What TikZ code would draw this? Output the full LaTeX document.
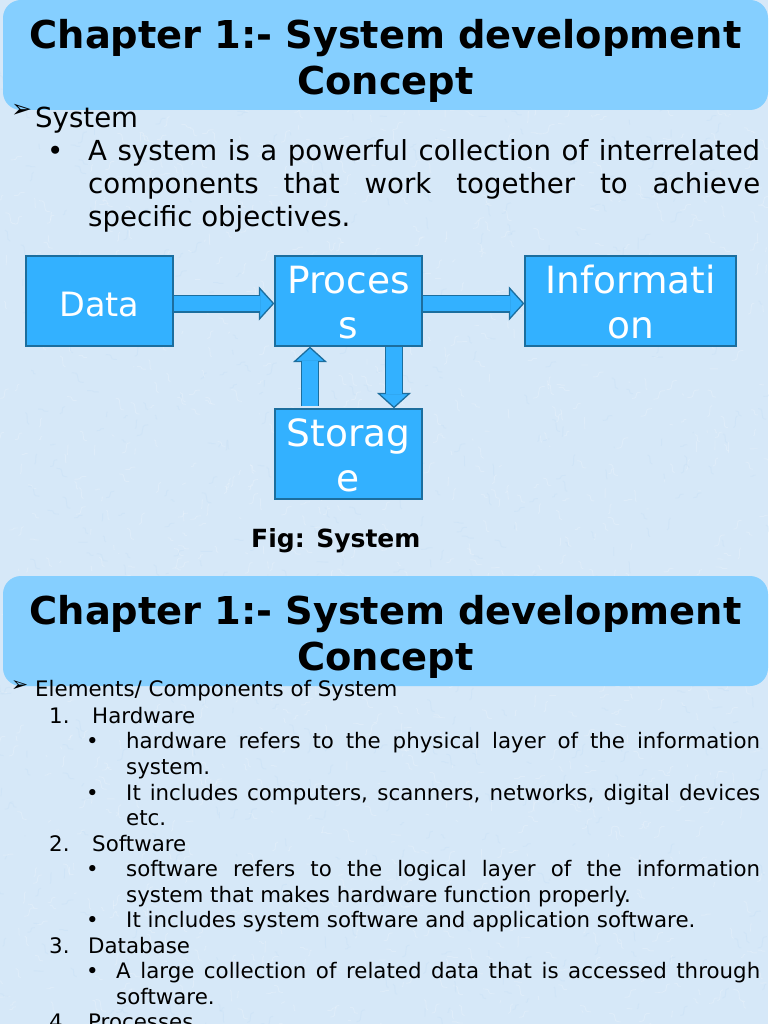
\documentclass[tikz,border=0pt]{standalone}
\usepackage{fontspec}
\setmainfont{DejaVu Sans}
\usetikzlibrary{arrows.meta}
\definecolor{paper}{HTML}{D6E8F8}
\definecolor{grain}{HTML}{B4D6F3}
\definecolor{banner}{HTML}{85CFFF}
\definecolor{boxfill}{HTML}{33B1FF}
\definecolor{boxedge}{HTML}{1C6E9E}
\hyphenpenalty=10000
\newcommand{\lift}[1]{\rule{0pt}{#1pt}}
\tikzset{
  banner/.style = {fill=banner, rounded corners=18pt, minimum width=765pt, minimum height=110pt,
    text width=750pt, align=center, inner sep=0pt, font=\bfseries\fontsize{38.4}{46}\selectfont},
  block/.style = {draw=boxedge, line width=1.3pt, fill=boxfill, text=white, minimum height=90pt,
    inner sep=0pt, align=center, font=\fontsize{37.5}{45}\selectfont},
  flow/.style = {draw=boxedge, line width=18pt,
    -{Triangle[length=15.5pt, width=34pt, fill=boxfill, line width=1.3pt]},
    postaction={draw=boxfill, line width=15.4pt, arrows=-, shorten >=14pt, shorten <=0.7pt}},
  big/.style = {anchor=north west, inner sep=0pt, font=\fontsize{27.6}{33}\selectfont},
  small/.style = {anchor=north west, inner sep=0pt, font=\fontsize{21.35}{25.6}\selectfont},
  para/.style = {align=justify}
}
\begin{document}
\begin{tikzpicture}[x=1pt, y=-1pt]
  \useasboundingbox (0,0) rectangle (768,1024);
  \fill[paper] (0,0) rectangle (768,1024);
  % paper grain
  \pgfmathsetseed{7}
  \foreach \i/\tone in {1/white,2/grain,3/white} {
    \foreach \j in {1,...,700} {
      \pgfmathsetmacro{\px}{rnd*768}
      \pgfmathsetmacro{\py}{rnd*1024}
      \pgfmathsetmacro{\qx}{\px+(rnd-.5)*24}
      \pgfmathsetmacro{\qy}{\py+(rnd-.5)*24}
      \draw[\tone, opacity=.2, line width=.9pt] (\px,\py) .. controls (\qx,\py) and (\px,\qy) .. (\qx,\qy);
    }
  }

  % first slide
  \node[banner] (head1) at (385.5,55) {\lift{40}Chapter 1:- System development\\Concept};
  \node[small, font=\fontsize{25}{30}\selectfont] (mark1) at (11,104) {➢};
  \node[big] (system) at (35,104) {\strut System};
  \node[big] (dot1) at (47,137) {\strut •};
  \node[big, para, text width=672pt] (systext) at (88,137)
    {\strut A system is a powerful collection of interrelated\linebreak
     components that work together to achieve\linebreak specific objectives.};

  \node[block, minimum width=147pt, font=\fontsize{33.5}{45}\selectfont] (data) at (99.5,301) {\lift{31}Data};
  \node[block, minimum width=147pt] (proc) at (348.5,301) {\lift{30}Proces\\s};
  \node[block, minimum width=211pt] (info) at (630.5,301) {\lift{30}Informati\\on};
  \node[block, minimum width=147pt] (store) at (348.5,454) {\lift{30}Storag\\e};

  \draw[flow] ([yshift=-2.5pt]data.east) -- ([yshift=-2.5pt]proc.west);
  \draw[flow] ([yshift=-2.5pt]proc.east) -- ([yshift=-2.5pt]info.west);
  \draw[flow] ([xshift=-38.5pt, yshift=2pt]store.north) -- ([xshift=-38.5pt]proc.south);
  \draw[flow] ([xshift=45.5pt]proc.south) -- ([xshift=45.5pt]store.north);

  \node[anchor=base west, inner sep=0pt, font=\bfseries\fontsize{25}{30}\selectfont] (figcap) at (251,547) {Fig: System};

  % second slide
  \node[banner] (head2) at (385.5,631) {\lift{40}Chapter 1:- System development\\Concept};
  \node[small, font=\fontsize{20.5}{25}\selectfont] (mark2) at (11,680) {➢};
  \node[small] (elem) at (35,678) {\strut Elements/ Components of System};

  \node[small] (n1) at (49,705) {\strut 1.};
  \node[small] (hw) at (92,705) {\strut Hardware};
  \node[small] (d1) at (86,730.3) {\strut •};
  \node[small, para, text width=634pt] (hw1) at (126,730.3)
    {\strut hardware refers to the physical layer of the information\linebreak system.};
  \node[small] (d2) at (86,782) {\strut •};
  \node[small, para, text width=634pt] (hw2) at (126,782)
    {\strut It includes computers, scanners, networks, digital devices\linebreak etc.};

  \node[small] (n2) at (49,833) {\strut 2.};
  \node[small] (sw) at (92,833) {\strut Software};
  \node[small] (d3) at (86,858.3) {\strut •};
  \node[small, para, text width=634pt] (sw1) at (126,858.3)
    {\strut software refers to the logical layer of the information\linebreak system that makes hardware function properly.};
  \node[small] (d4) at (86,909.3) {\strut •};
  \node[small] (sw2) at (126,909.3) {\strut It includes system software and application software.};

  \node[small] (n3) at (49,935) {\strut 3.};
  \node[small] (db) at (88,935) {\strut Database};
  \node[small] (d5) at (86,960.3) {\strut •};
  \node[small, para, text width=644pt] (db1) at (116,960.3)
    {\strut A large collection of related data that is accessed through\linebreak software.};

  \node[small] (n4) at (49,1011) {\strut 4.};
  \node[small] (pr) at (88,1011) {\strut Processes};
\end{tikzpicture}
\end{document}
